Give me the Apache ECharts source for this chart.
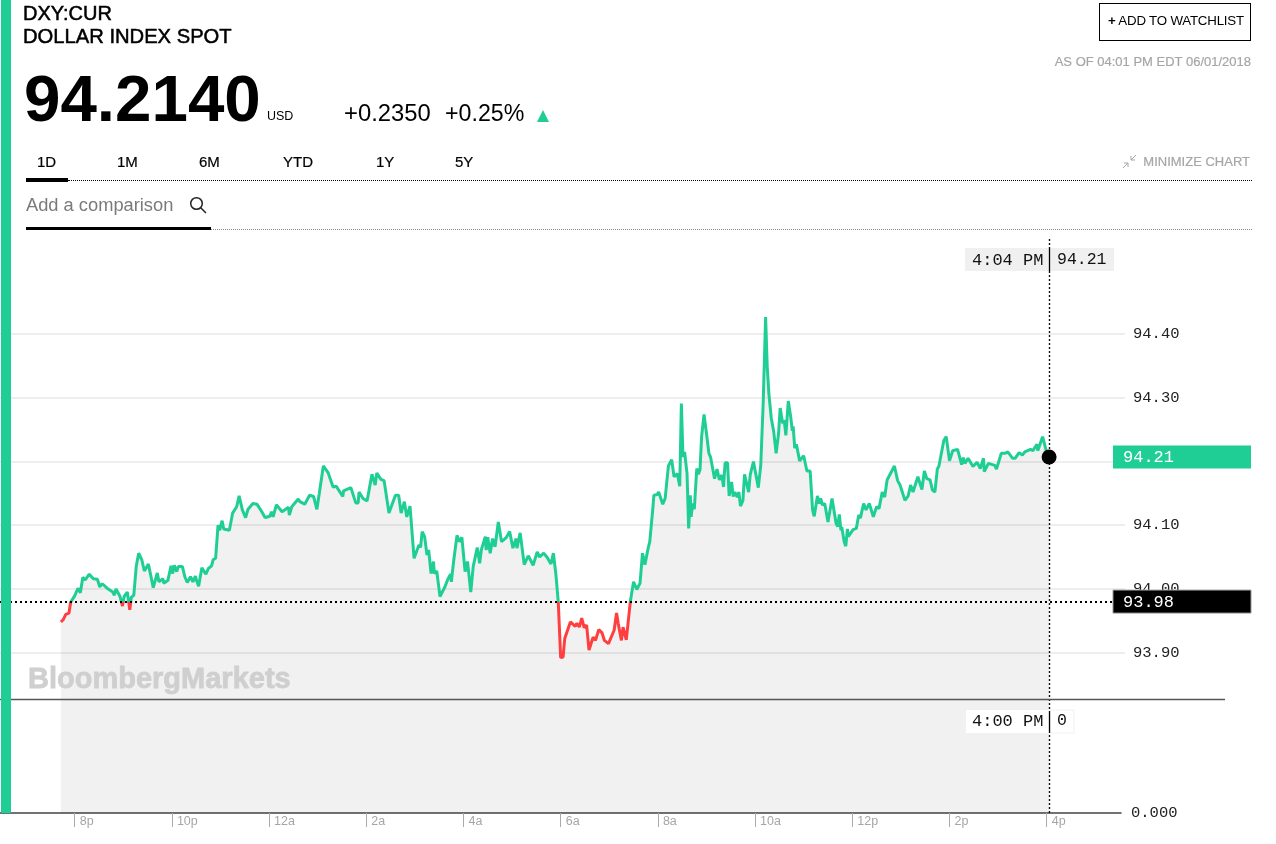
<!DOCTYPE html>
<html>
<head>
<meta charset="utf-8">
<title>DXY:CUR</title>
<script src="https://cdn.jsdelivr.net/npm/echarts@6/dist/echarts.min.js"></script>
<style>
html, body { margin: 0; padding: 0; background: #fff; }
body { width: 1276px; height: 844px; overflow: hidden; position: relative; font-family: "Liberation Sans", Arial, sans-serif; color: #000; }
#chart { position: absolute; left: 0; top: 0; width: 1276px; height: 844px; }
.t { position: absolute; white-space: nowrap; line-height: 20px; z-index: 2; }
.r { text-align: right; }
.gray { color: #a6a6a6; }
.med { -webkit-text-stroke: 0.5px #000; }
.bar { position: absolute; z-index: 2; }
.tab { font-size: 15px; top: 152px; -webkit-text-stroke: 0.2px #000; }
svg { position: absolute; z-index: 2; }
</style>
</head>
<body>
<div id="chart"></div>

<div class="bar" style="left:1px;top:0;width:10px;height:813px;background:#1fce95"></div>
<div class="t med" style="left:23px;top:3px;font-size:20px">DXY:CUR</div>
<div class="t med" style="left:23px;top:26px;font-size:20.2px">DOLLAR INDEX SPOT</div>
<div class="t" style="left:24px;top:89px;font-size:65.5px;font-weight:bold">94.2140</div>
<div class="t" style="left:267px;top:106px;font-size:12.5px">USD</div>
<div class="t" style="left:344px;top:103px;font-size:23.8px">+0.2350</div>
<div class="t" style="left:445px;top:103px;font-size:23.2px">+0.25%</div>
<svg style="left:536px;top:110px" width="14" height="13"><polygon points="7,0 13,12 1,12" fill="#1fce95"/></svg>

<div class="t tab med" style="left:37px">1D</div>
<div class="t tab" style="left:117px">1M</div>
<div class="t tab" style="left:199px">6M</div>
<div class="t tab" style="left:283px">YTD</div>
<div class="t tab" style="left:376px">1Y</div>
<div class="t tab" style="left:455px">5Y</div>
<div class="bar" style="left:26px;top:178px;width:42px;height:4px;background:#000"></div>
<div class="bar" style="left:68px;top:180px;width:1184px;border-top:1px dotted #000"></div>

<div class="t" style="left:26px;top:195px;font-size:18.3px;color:#7a7a7a">Add a comparison</div>
<svg style="left:188px;top:195px" width="20" height="20" fill="none" stroke="#222" stroke-width="1.5"><circle cx="8.5" cy="8.5" r="5.8"/><line x1="12.7" y1="12.7" x2="18" y2="18"/></svg>
<div class="bar" style="left:26px;top:227px;width:185px;height:3px;background:#000"></div>
<div class="bar" style="left:211px;top:229px;width:1041px;border-top:1px dotted #888"></div>

<div class="bar" style="left:1099px;top:3px;width:150px;height:36px;border:1px solid #000"></div>
<div class="t" style="left:1108px;top:11px;font-size:13.3px;letter-spacing:-0.2px"><b>+</b> ADD TO WATCHLIST</div>
<div class="t r gray" style="right:25px;top:52px;font-size:13px;-webkit-text-stroke:0.2px #a6a6a6">AS OF 04:01 PM EDT 06/01/2018</div>
<svg style="left:1122px;top:154px" width="15" height="15" fill="none" stroke="#a6a6a6" stroke-width="1"><path d="M1 14 L6 9 M2 9 H6 V13 M14 1 L9 6 M13 6 H9 V2"/></svg>
<div class="t r gray" style="right:26px;top:152px;font-size:13px;-webkit-text-stroke:0.2px #a6a6a6">MINIMIZE CHART</div>

<script>
// minutes after 8 PM
var times = [
    -17, -14, -11, -7, -5, 0, 4, 7, 10, 13,
    18, 23, 28, 31, 34, 40, 47, 49, 51, 56,
    59, 61, 65, 68, 70, 73, 76, 79, 83, 86,
    91, 97, 99, 102, 104, 109, 110, 115, 119, 121,
    123, 126, 128, 133, 136, 139, 143, 146, 149, 151,
    153, 157, 162, 165, 169, 171, 174, 177, 179, 182,
    184, 191, 195, 200, 203, 207, 211, 214, 220, 225,
    231, 235, 241, 243, 245, 249, 256, 264, 265, 268,
    276, 278, 284, 290, 295, 299, 302, 307, 313, 319,
    323, 331, 332, 341, 347, 350, 351, 356, 361, 364,
    367, 371, 373, 378, 382, 388, 390, 396, 400, 403,
    407, 410, 414, 419, 421, 425, 427, 429, 432, 435,
    437, 440, 443, 444, 447, 451, 457, 461, 464, 465,
    468, 472, 475, 478, 482, 485, 489, 492, 497, 500,
    502, 507, 508, 510, 513, 516, 519, 523, 527, 533,
    537, 541, 545, 546, 550, 555, 560, 566, 571, 574,
    579, 583, 588, 591, 594, 597, 600, 603, 605, 607,
    612, 618, 620, 623, 626, 629, 632, 635, 640, 643,
    647, 651, 654, 659, 666, 669, 671, 675, 677, 681,
    686, 690, 694, 698, 701, 704, 706, 708, 710, 714,
    715, 719, 721, 726, 729, 733, 737, 740, 744, 747,
    749, 751, 753, 756, 758, 760, 761, 763, 765, 768,
    770, 772, 774, 777, 780, 783, 785, 790, 793, 796,
    799, 801, 803, 806, 808, 811, 813, 815, 818, 820,
    822, 825, 827, 832, 834, 838, 840, 844, 847, 850,
    853, 855, 857, 860, 863, 866, 869, 871, 874, 876,
    878, 881, 884, 886, 887, 889, 891, 895, 900, 904,
    908, 911, 913, 917, 919, 921, 923, 926, 930, 932,
    935, 940, 942, 944, 946, 947, 950, 952, 954, 955,
    961, 965, 968, 970, 974, 977, 981, 986, 990, 993,
    997, 1000, 1003, 1012, 1016, 1019, 1025, 1029, 1032, 1035,
    1037, 1041, 1046, 1049, 1052, 1056, 1059, 1062, 1065, 1067,
    1073, 1076, 1080, 1084, 1090, 1095, 1097, 1099, 1103, 1109,
    1114, 1118, 1122, 1123, 1128, 1136, 1138, 1144, 1149, 1152,
    1158, 1161, 1166, 1170, 1173, 1180, 1183, 1188, 1189, 1195,
    1200, 1203
]
var prices = [
    93.948, 93.952, 93.960, 93.962, 93.979, 93.989, 94.001, 93.994, 94.018, 94.014,
    94.023, 94.016, 94.015, 94.003, 94.008, 94.001, 93.995, 93.990, 94.000, 93.988,
    93.973, 93.988, 93.995, 93.967, 93.987, 93.990, 94.035, 94.056, 94.045, 94.028,
    94.039, 94.002, 94.002, 94.025, 94.011, 94.016, 94.009, 94.013, 94.036, 94.024,
    94.037, 94.027, 94.035, 94.035, 94.019, 94.010, 94.019, 94.011, 94.020, 94.011,
    94.004, 94.033, 94.023, 94.032, 94.036, 94.046, 94.048, 94.100, 94.092, 94.107,
    94.094, 94.092, 94.119, 94.129, 94.146, 94.124, 94.112, 94.125, 94.134, 94.133,
    94.121, 94.112, 94.114, 94.121, 94.113, 94.132, 94.121, 94.128, 94.116, 94.129,
    94.141, 94.137, 94.133, 94.147, 94.145, 94.125, 94.150, 94.193, 94.182, 94.160,
    94.161, 94.145, 94.154, 94.159, 94.135, 94.135, 94.152, 94.142, 94.138, 94.159,
    94.180, 94.163, 94.182, 94.172, 94.170, 94.119, 94.119, 94.147, 94.147, 94.119,
    94.137, 94.113, 94.130, 94.048, 94.049, 94.069, 94.065, 94.090, 94.082, 94.053,
    94.061, 94.024, 94.043, 94.024, 94.028, 93.988, 94.003, 94.016, 94.023, 94.011,
    94.045, 94.084, 94.074, 94.081, 94.027, 94.043, 93.995, 94.035, 94.065, 94.040,
    94.061, 94.082, 94.061, 94.081, 94.056, 94.079, 94.066, 94.105, 94.074, 94.081,
    94.090, 94.064, 94.079, 94.064, 94.088, 94.038, 94.052, 94.037, 94.058, 94.050,
    94.056, 94.050, 94.039, 94.056, 94.024, 93.980, 93.892, 93.893, 93.922, 93.920,
    93.948, 93.941, 93.946, 93.940, 93.954, 93.939, 93.943, 93.904, 93.924, 93.919,
    93.936, 93.931, 93.919, 93.914, 93.935, 93.962, 93.946, 93.919, 93.940, 93.920,
    93.980, 94.011, 93.999, 94.009, 94.056, 94.038, 94.039, 94.064, 94.074, 94.129,
    94.147, 94.148, 94.152, 94.133, 94.142, 94.193, 94.203, 94.176, 94.181, 94.161,
    94.291, 94.207, 94.215, 94.181, 94.095, 94.147, 94.113, 94.134, 94.125, 94.189,
    94.180, 94.187, 94.239, 94.274, 94.244, 94.213, 94.207, 94.173, 94.188, 94.171,
    94.179, 94.160, 94.198, 94.198, 94.146, 94.168, 94.145, 94.152, 94.144, 94.152,
    94.130, 94.139, 94.180, 94.152, 94.179, 94.200, 94.201, 94.159, 94.194, 94.291,
    94.427, 94.349, 94.307, 94.268, 94.247, 94.213, 94.244, 94.284, 94.260, 94.265,
    94.241, 94.295, 94.270, 94.248, 94.255, 94.221, 94.227, 94.201, 94.209, 94.185,
    94.185, 94.124, 94.114, 94.146, 94.134, 94.142, 94.132, 94.134, 94.105, 94.104,
    94.142, 94.103, 94.098, 94.117, 94.092, 94.097, 94.074, 94.067, 94.094, 94.082,
    94.093, 94.095, 94.116, 94.111, 94.134, 94.124, 94.134, 94.113, 94.129, 94.126,
    94.152, 94.144, 94.171, 94.193, 94.170, 94.163, 94.139, 94.146, 94.163, 94.152,
    94.152, 94.176, 94.156, 94.185, 94.173, 94.171, 94.155, 94.152, 94.188, 94.193,
    94.233, 94.239, 94.201, 94.217, 94.219, 94.195, 94.206, 94.197, 94.205, 94.192,
    94.199, 94.189, 94.205, 94.184, 94.197, 94.194, 94.188, 94.213, 94.213, 94.215,
    94.205, 94.205, 94.214, 94.210, 94.215, 94.219, 94.217, 94.227, 94.217, 94.239,
    94.214, 94.207
]
var priceTicks = [93.9, 94.0, 94.1, 94.2, 94.3, 94.4]
var hourTicks = [0, 120, 240, 360, 480, 600, 720, 840, 960, 1080, 1200]
var hourLabels = ['8p', '10p', '12a', '2a', '4a', '6a', '8a', '10a', '12p', '2p', '4p']
var volumeTimes = [1200]
var volumes = [0]
var previousClose = 93.98
var lastTime = 1203
var lastPrice = 94.207

var GREEN = '#1fce95'
var RED = '#ff3f3f'
var MONO = '"Liberation Mono", monospace'
var PRICE_MIN = 93.648
var PRICE_MAX = 94.551

var chart = echarts.init(document.querySelector('#chart'), null, {renderer: 'canvas'})

chart.setOption({
    animation: false,
    backgroundColor: '#fff',
    grid: [
        {left: 0, top: 238, width: 1125, height: 575},
        {left: 0, top: 699, width: 1121, height: 114}
    ],
    xAxis: [
        {gridIndex: 0, type: 'value', min: -92.2, max: 1296.7, show: false, splitLine: {show: false}},
        {
            gridIndex: 1, type: 'value', min: -92.2, max: 1291.7, position: 'bottom',
            axisLine: {onZero: false, lineStyle: {color: '#444', width: 1.5}},
            axisTick: {customValues: hourTicks, length: 14, lineStyle: {color: '#aaa', width: 1}},
            axisLabel: {
                customValues: hourTicks, align: 'left', margin: 2, padding: [0, 0, 0, 5],
                color: '#a6a6a6', fontSize: 12.5, fontFamily: 'Liberation Sans',
                formatter: function (v) { return hourLabels[hourTicks.indexOf(v)] }
            },
            splitLine: {show: false}
        }
    ],
    yAxis: [
        {
            gridIndex: 0, type: 'value', min: PRICE_MIN, max: PRICE_MAX, position: 'right',
            axisLine: {show: false},
            axisTick: {show: false, customValues: priceTicks},
            axisLabel: {
                customValues: priceTicks, margin: 8, color: '#222', fontSize: 15.5, fontFamily: MONO,
                formatter: function (v) { return v.toFixed(2) }
            },
            splitLine: {show: true, lineStyle: {color: '#e8e8e8', width: 1.5}}
        },
        {
            gridIndex: 1, type: 'value', min: 0, max: 1, position: 'right',
            axisLine: {show: false},
            axisTick: {show: false, customValues: [0]},
            axisLabel: {
                customValues: [0], margin: 10, color: '#222', fontSize: 15.5, fontFamily: MONO,
                formatter: function (v) { return v.toFixed(3) }
            },
            splitLine: {show: false}
        }
    ],
    // 昨收以下画红色，以上画绿色
    visualMap: {
        show: false, type: 'piecewise', seriesIndex: 0, dimension: 1,
        pieces: [
            {gte: PRICE_MIN, lt: previousClose, color: RED},
            {gte: previousClose, lte: PRICE_MAX, color: GREEN}
        ]
    },
    series: [
        {
            type: 'line',
            xAxisIndex: 0,
            yAxisIndex: 0,
            data: times.map(function (t, i) { return [t, prices[i]] }),
            showSymbol: false,
            lineStyle: {width: 3},
            areaStyle: {origin: 'start', color: 'rgba(0,0,0,0.055)', opacity: 1},
            z: 3,
            markLine: {
                silent: true, symbol: 'none', animation: false, label: {show: false},
                data: [
                    {yAxis: previousClose, lineStyle: {color: '#000', type: [2, 3], width: 2}},
                    {xAxis: lastTime, lineStyle: {color: '#111', type: [2, 2], width: 1.4}}
                ]
            },
            markPoint: {
                silent: true, animation: false, symbol: 'circle', symbolSize: 15,
                itemStyle: {color: '#000'}, label: {show: false},
                data: [{coord: [lastTime, lastPrice]}]
            }
        },
        {
            type: 'bar',
            xAxisIndex: 1,
            yAxisIndex: 1,
            data: volumeTimes.map(function (t, i) { return [t, volumes[i]] }),
            barWidth: 1,
            itemStyle: {color: '#000'}
        }
    ]
})

// 价格标签和十字线标签的位置都从坐标轴换算
var last = chart.convertToPixel({xAxisIndex: 0, yAxisIndex: 0}, [lastTime, lastPrice])
var close = chart.convertToPixel({xAxisIndex: 0, yAxisIndex: 0}, [lastTime, previousClose])
var cx = Math.round(last[0]) + 0.5

function box(x, y, w, h, fill, stroke) {
    return {type: 'rect', z: 20, silent: true, shape: {x: x, y: y, width: w, height: h},
        style: {fill: fill, stroke: stroke || null, lineWidth: 1}}
}
function label(x, y, text, color, size) {
    return {type: 'text', z: 21, silent: true, x: x, y: y,
        style: {text: text, fill: color, font: size + 'px ' + MONO, textVerticalAlign: 'middle'}}
}
function vline(x, y1, y2, color, w) {
    return {type: 'line', z: 21, silent: true, shape: {x1: x, y1: y1, x2: x, y2: y2},
        style: {stroke: color, lineWidth: w}}
}

chart.setOption({
    graphic: [
        // 量能面板分隔线
        {type: 'line', z: 5, silent: true, shape: {x1: 0, y1: 699.5, x2: 1225, y2: 699.5},
            style: {stroke: '#555', lineWidth: 1.3}},
        {type: 'text', z: 6, silent: true, x: 28, y: 680,
            style: {text: 'BloombergMarkets', fill: '#cfcfcf', stroke: '#cfcfcf', lineWidth: 0.8, font: 'bold 29px "Liberation Sans"', textVerticalAlign: 'middle'}},

        box(1113, last[1] - 11.5, 138, 23, GREEN),
        label(1123, last[1] + 0.5, '94.21', '#fff', 17),
        box(1113, close[1] - 11.5, 138, 23, '#000', '#999'),
        label(1123, close[1] + 0.5, '93.98', '#fff', 17),

        box(965, 248, 149, 23, '#f0f0f0'),
        label(972, 260, '4:04 PM', '#111', 17),
        label(1057, 260, '94.21', '#111', 16.5),
        vline(cx, 248, 271, '#000', 1.3),

        box(966, 710, 83, 23, '#fff'),
        box(1050, 710, 24, 23, '#fff', '#f0f0f0'),
        label(972, 721, '4:00 PM', '#111', 17),
        label(1057, 721, '0', '#111', 16.5),
        vline(cx, 711, 733, '#000', 1.3)
    ]
})
</script>
</body>
</html>
